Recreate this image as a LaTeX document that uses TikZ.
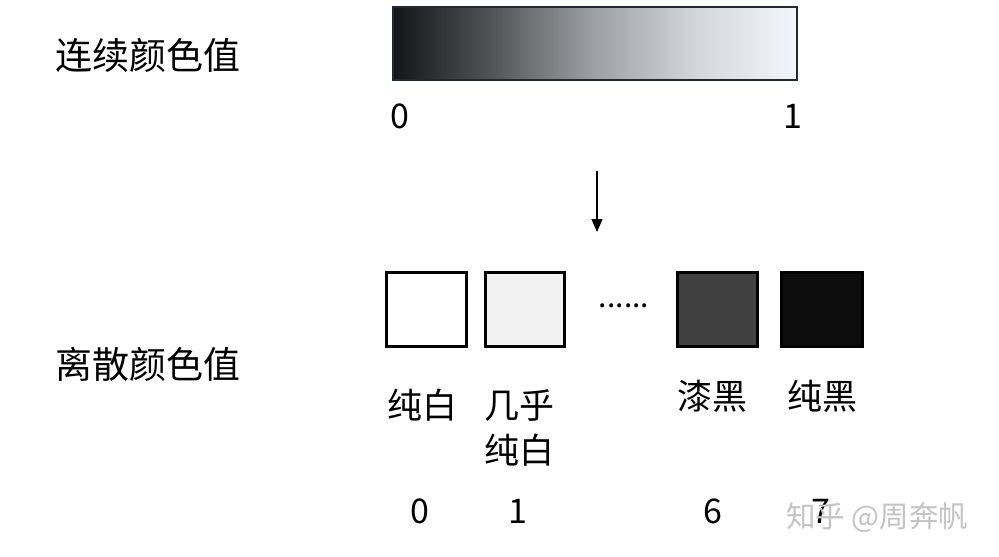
\documentclass[tikz,border=0pt]{standalone}
\usepackage{fontspec}
\setmainfont{Noto Sans CJK SC}
\usetikzlibrary{arrows.meta}
\definecolor{barA}{HTML}{141517}
\definecolor{barB}{HTML}{55565A}
\definecolor{barC}{HTML}{9DA0A4}
\definecolor{barD}{HTML}{D3D6DB}
\definecolor{barE}{HTML}{F3F6FB}
\definecolor{barEdge}{HTML}{1E2A36}
\definecolor{fillA}{HTML}{FFFFFF}
\definecolor{fillB}{HTML}{F2F2F2}
\definecolor{fillC}{HTML}{404040}
\definecolor{fillD}{HTML}{0D0D0D}
\definecolor{wmark}{HTML}{C4C4C4}
\pgfdeclarehorizontalshading{barshade}{100bp}{color(0bp)=(barA); color(25bp)=(barA); color(37.5bp)=(barB); color(50bp)=(barC); color(62.5bp)=(barD); color(75bp)=(barE); color(100bp)=(barE)}
\begin{document}
\begin{tikzpicture}[x=1pt,y=-1pt,
  bigtxt/.style={inner sep=0pt,anchor=base west,font=\fontsize{37}{40}\selectfont},
  lbl/.style={inner sep=0pt,anchor=base,font=\fontsize{35}{40}\selectfont},
  digit/.style={inner sep=0pt,anchor=base,font=\fontsize{34}{40}\selectfont},
  swatch/.style={draw=black,line width=3pt},
]
\useasboundingbox (0,0) rectangle (999,557);
\fill[white] (0,0) rectangle (999,557);
% gradient bar
\shade[shading=barshade] (393,7) rectangle (797,80);
\draw[barEdge,line width=1.6pt] (393,7) rectangle (797,80);
\coordinate (bar) at (595,44);
% left labels
\node[bigtxt] (cont) at (55,69) {连续颜色值};
\node[bigtxt] (disc) at (55,378) {离散颜色值};
% bar end labels
\node[digit] (b0) at (400,128) {0};
\node[digit] (b1) at (793,128) {1};
% arrow
\coordinate (atop) at (597,171);
\coordinate (abot) at (597,232);
\draw[line width=1.2pt,-{Triangle[width=11pt,length=13pt]}] (atop) -- (abot);
% swatches
\draw[swatch,fill=fillA] (386,272) rectangle (466,346);
\draw[swatch,fill=fillB] (485,272) rectangle (564,346);
\draw[swatch,fill=fillC] (677,272) rectangle (757,346);
\draw[swatch,fill=fillD] (781,272) rectangle (862,346);
\node[inner sep=0pt,anchor=base,font=\fontsize{30}{30}\selectfont] (dots) at (624,307) {......};
% swatch labels
\node[lbl] (l0) at (422,418) {纯白};
\node[lbl] (l1a) at (519,418) {几乎};
\node[lbl] (l1b) at (519,463) {纯白};
\node[lbl] (l6) at (712,409) {漆黑};
\node[lbl] (l7) at (822,409) {纯黑};
% index numbers
\node[digit] (n0) at (420,523) {0};
\node[digit] (n1) at (518,523) {1};
\node[digit] (n6) at (713,523) {6};
\node[digit] (n7) at (821,523) {7};
% watermark
\node[inner sep=0pt,anchor=base west,text=wmark,font=\fontsize{29.5}{30}\selectfont] (wm) at (786,527) {知乎 @周奔帆};
\end{tikzpicture}
\end{document}
